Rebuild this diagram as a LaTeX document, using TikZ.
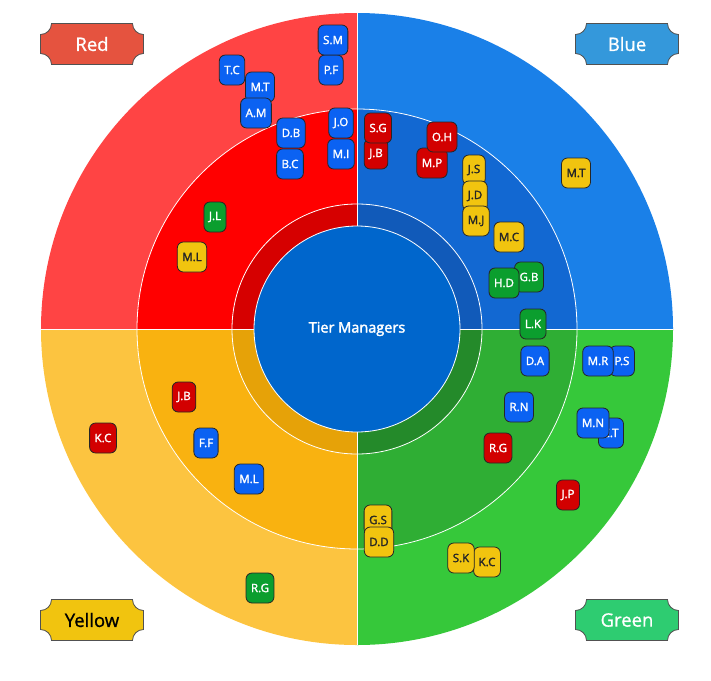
\documentclass[tikz,border=0pt]{standalone}
\usepackage{fontspec}
\setmainfont{Open Sans}
\newfontfamily\tagfont{Open Sans}[FakeBold=2]
\newfontfamily\hubfont{Open Sans}[FakeBold=2.2]
\newfontfamily\flagfont{Open Sans}[FakeBold=1]
\definecolor{ringRo}{HTML}{FF4444}
\definecolor{ringRm}{HTML}{FF0000}
\definecolor{ringRi}{HTML}{D60000}
\definecolor{ringBo}{HTML}{1A80E8}
\definecolor{ringBm}{HTML}{1268D2}
\definecolor{ringBi}{HTML}{115AB9}
\definecolor{ringGo}{HTML}{36C83A}
\definecolor{ringGm}{HTML}{2FAE34}
\definecolor{ringGi}{HTML}{248A2A}
\definecolor{ringYo}{HTML}{FCC440}
\definecolor{ringYm}{HTML}{F9B210}
\definecolor{ringYi}{HTML}{E6A208}
\definecolor{hubblue}{HTML}{0066CC}
\definecolor{tagblue}{HTML}{0B62F2}
\definecolor{tagred}{HTML}{D20000}
\definecolor{taggreen}{HTML}{0B9E2E}
\definecolor{tagyellow}{HTML}{F1C40F}
\definecolor{tagline}{HTML}{262626}
\definecolor{flagred}{HTML}{E5533F}
\definecolor{flagblue}{HTML}{3498DB}
\definecolor{flagyellow}{HTML}{F1C40F}
\definecolor{flaggreen}{HTML}{2ECC71}

\begin{document}
\begin{tikzpicture}[
  x=1pt,y=-1pt,
  tag/.style={draw=tagline,line width=.8pt,rounded corners=6pt,minimum height=30pt,
    minimum width=0pt,inner xsep=5pt,font=\tagfont\fontsize{11.5}{12}\selectfont},
  tB/.style={tag,fill=tagblue,text=white},
  tR/.style={tag,fill=tagred,text=white},
  tG/.style={tag,fill=taggreen,text=white},
  tY/.style={tag,fill=tagyellow,text=black!85},
  flag/.style={font=\flagfont\fontsize{18.5}{20}\selectfont},
  sep/.style={white,line width=.8pt},
]
  \useasboundingbox (0,0) rectangle (711,680);
  \coordinate (c) at (357,329);

  % quadrants, three bands each
  \foreach \a/\co/\cm/\ci in {180/ringRo/ringRm/ringRi,270/ringBo/ringBm/ringBi,
                              0/ringGo/ringGm/ringGi,90/ringYo/ringYm/ringYi} {
    \fill[\co] (c) -- ++(\a:316) arc[start angle=\a,delta angle=90,radius=316] -- cycle;
    \fill[\cm] (c) -- ++(\a:220) arc[start angle=\a,delta angle=90,radius=220] -- cycle;
    \fill[\ci] (c) -- ++(\a:125) arc[start angle=\a,delta angle=90,radius=125] -- cycle;
  }
  \draw[sep] (c) circle[radius=220] (c) circle[radius=125];
  \draw[sep] (c) ++(0,-316) -- ++(0,632);
  \draw[sep] (c) ++(-316,0) -- ++(632,0);

  \node[circle,fill=hubblue,draw=white,line width=.8pt,minimum size=206pt,inner sep=0,
    text=white,font=\hubfont\fontsize{14.5}{16}\selectfont] (hub) at (c) {Tier Managers};

  % corner flags
  \foreach \nm/\x/\y/\c/\tc in {Red/92/44/flagred/white,Blue/627/44/flagblue/white,
                                Yellow/92/620/flagyellow/black,Green/627/620/flaggreen/white} {
    \draw[draw=tagline!80,line width=.8pt,fill=\c]
      (\x-40.5,\y-20.5) -- (\x+40.5,\y-20.5) arc[start angle=180,end angle=90,radius=11]
      -- (\x+51.5,\y+9.5) arc[start angle=270,end angle=180,radius=11]
      -- (\x-40.5,\y+20.5) arc[start angle=0,end angle=-90,radius=11]
      -- (\x-51.5,\y-9.5) arc[start angle=90,end angle=0,radius=11] -- cycle;
    \node[flag,text=\tc] (f-\nm) at (\x,\y) {\nm};
  }

  % people
  \foreach \i/\s/\x/\y/\t in {
      1/tB/331/70/P.F,2/tB/333/40/S.M,3/tB/260/87/M.T,4/tB/232/70/T.C,5/tB/256/113/A.M,
      6/tB/291/133/D.B,7/tB/290/164/B.C,8/tB/341/123/J.O,9/tB/341/154/M.I,
      10/tG/215/217/J.L,11/tY/192/257/M.L,
      12/tR/376/154/J.B,13/tR/378/128/S.G,14/tR/432/163/M.P,15/tR/442/137/O.H,
      16/tY/474/170/J.S,17/tY/475/196/J.D,18/tY/476/221/M.J,19/tY/509/237/M.C,
      20/tY/576/173/M.T,21/tG/529/277/G.B,22/tG/504/283/H.D,23/tG/533/324/L.K,
      24/tB/535/361/D.A,25/tB/622/361/P.S,26/tB/598/361/M.R,27/tB/519/407/R.N,
      28/tB/611/433/E.T,29/tB/593/423/M.N,30/tR/498/448/R.G,31/tR/568/495/J.P,
      32/tY/378/520/G.S,33/tY/379/542/D.D,34/tY/487/562/K.C,35/tY/461/558/S.K,
      36/tR/184/397/J.B,37/tR/103/438/K.C,38/tB/206/443/F.F,39/tB/249/479/M.L,
      40/tG/260/588/R.G} {
    \node[\s] (p\i) at (\x,\y) {\t};
  }
\end{tikzpicture}
\end{document}
